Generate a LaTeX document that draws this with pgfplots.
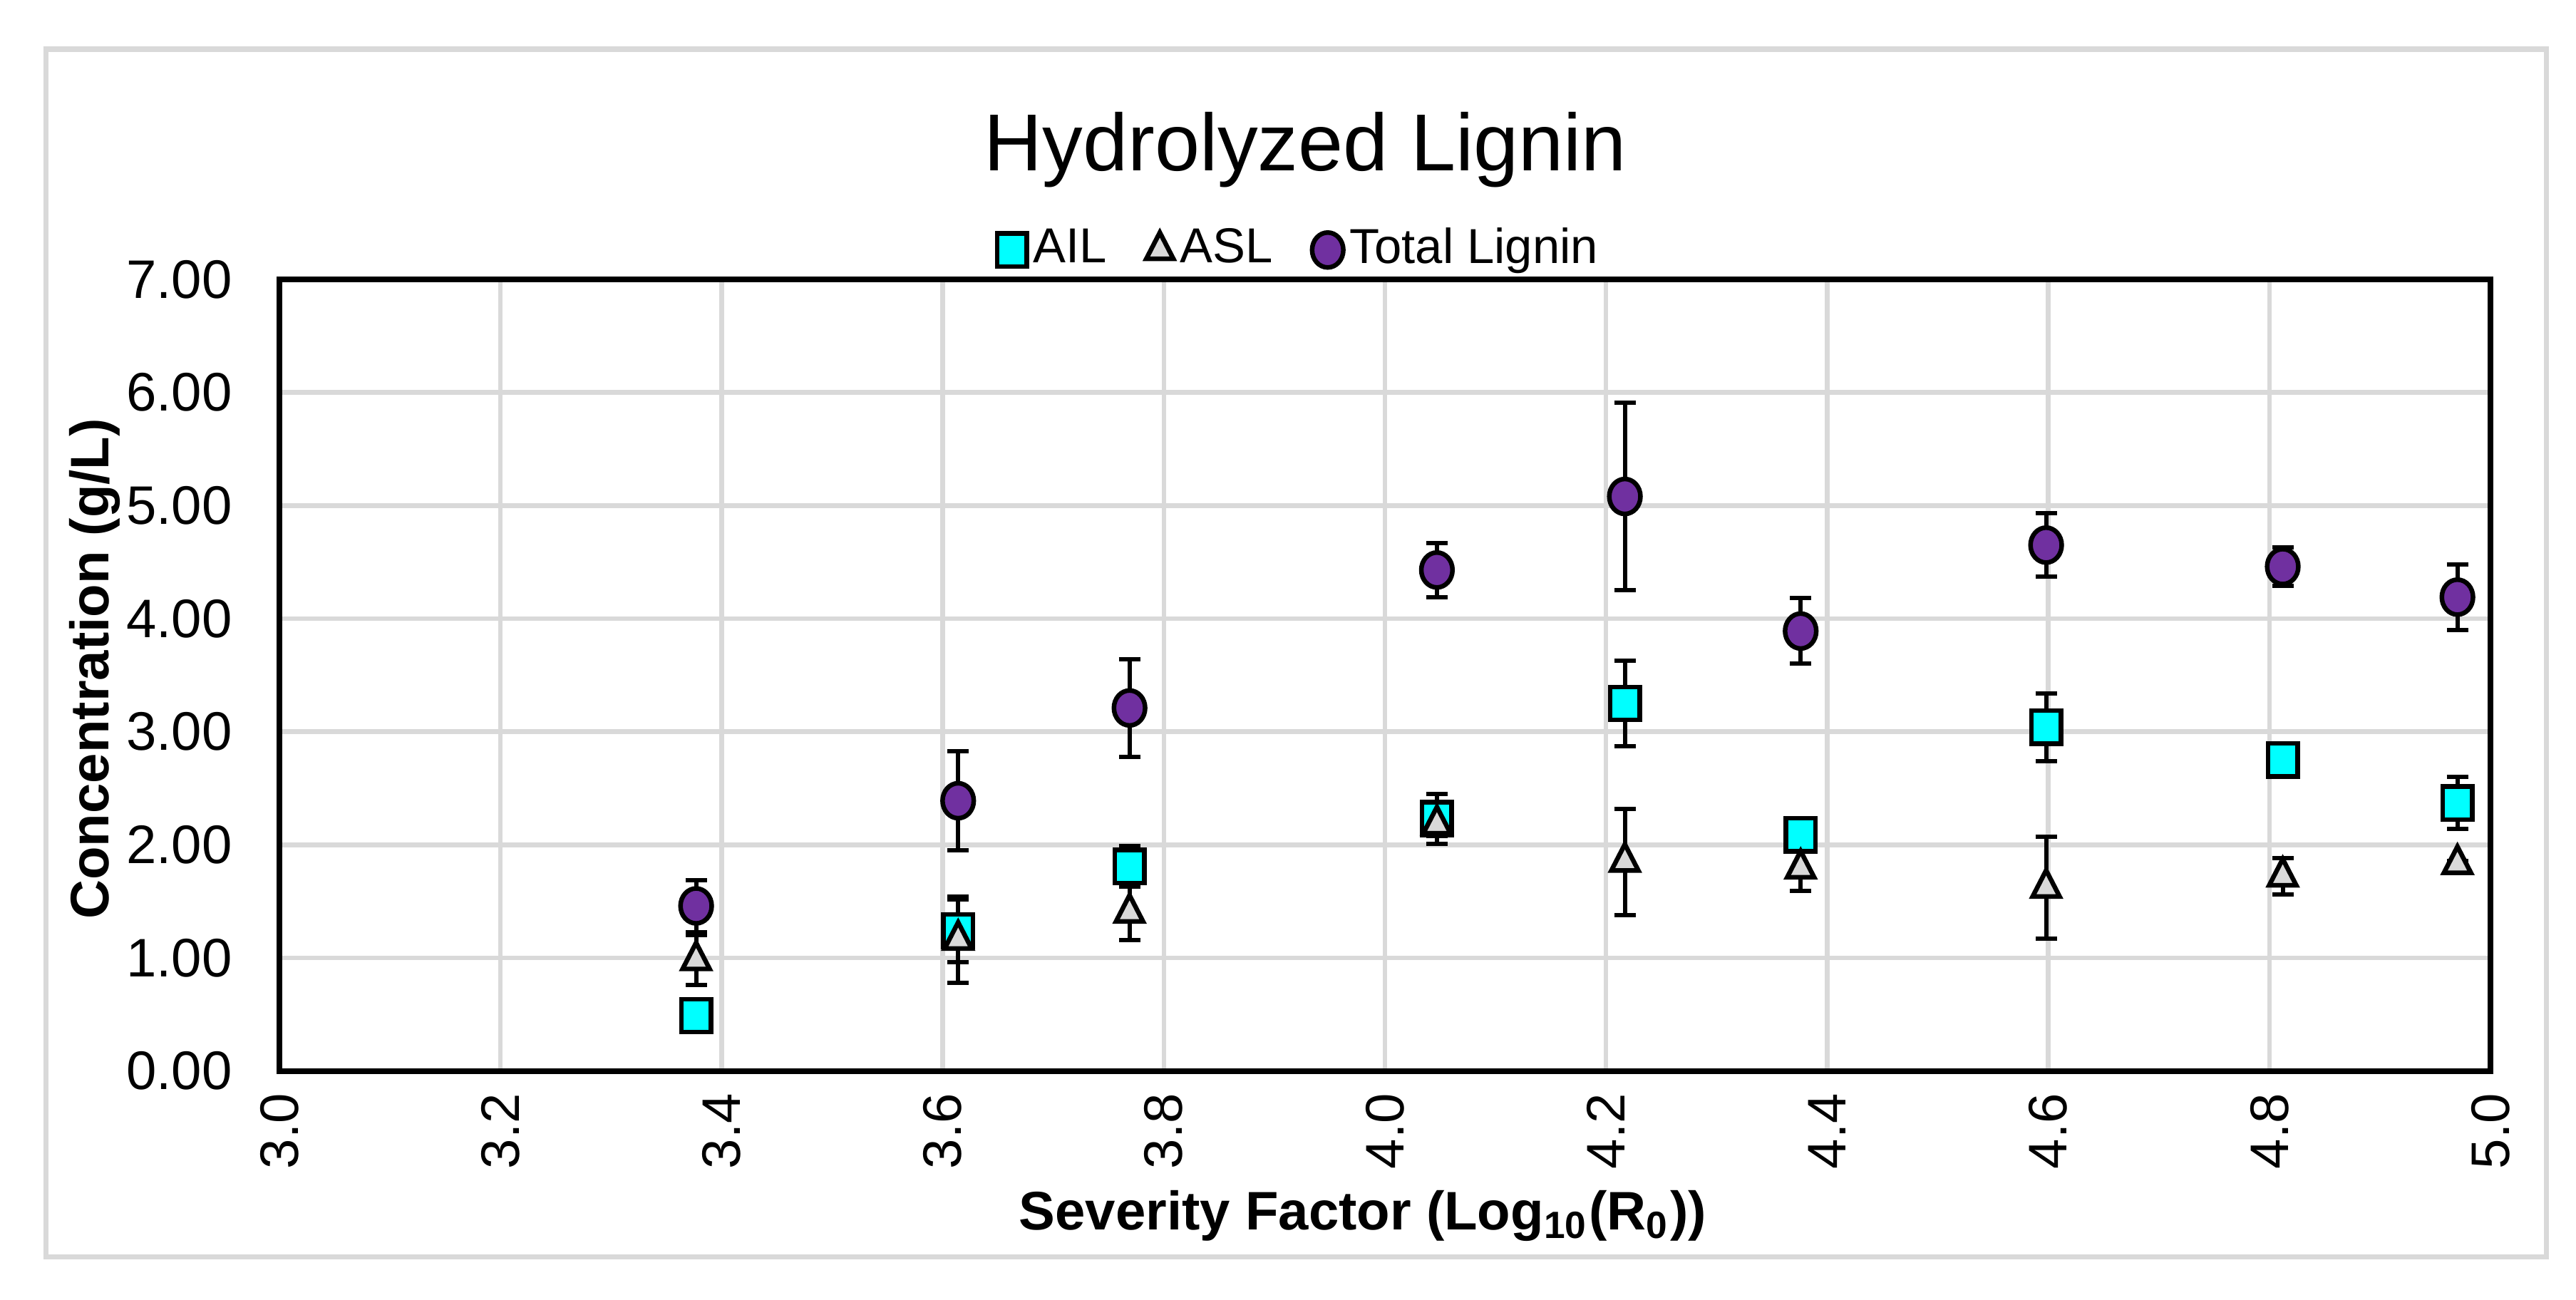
\documentclass[border=0pt]{standalone}
\usepackage{fontspec}
\setmainfont{Liberation Sans}
\usepackage{pgfplots}
\pgfplotsset{compat=1.18}

\definecolor{ailcyan}{HTML}{00FFFF}
\definecolor{tlpurple}{HTML}{7030A0}
\definecolor{aslgray}{HTML}{D9D9D9}
\definecolor{gridgray}{HTML}{D9D9D9}

\pgfplotsset{
  myerr/.style={error bars/.cd, y dir=both, y explicit,
    error bar style={line width=0.75pt, black},
    error mark options={rotate=90, mark size=0.65mm, line width=0.75pt, black}},
}

\begin{document}
\begin{tikzpicture}
\path[use as bounding box] (-1.70,-1.39) rectangle (13.98,6.52);
\draw[gridgray, line width=0.9pt] (-1.42,-1.13) rectangle (13.80,6.22);
\begin{axis}[
    scale only axis,
    width=13.46cm, height=4.82cm,
    xmin=3, xmax=5, ymin=0, ymax=7,
    xtick={3.0,3.2,3.4,3.6,3.8,4.0,4.2,4.4,4.6,4.8,5.0},
    ytick={0,1,2,3,4,5,6,7},
    grid=major,
    grid style={line width=0.8pt, draw=gridgray},
    axis line style={line width=1pt, black},
    tick style={draw=none},
    /pgf/number format/assume math mode=true,
    xticklabel style={/pgf/number format/.cd, fixed, fixed zerofill, precision=1, /tikz/.cd,
        rotate=90, anchor=east, font=\fontsize{9.4}{11}\selectfont, inner sep=0pt},
    xticklabel shift=1.3mm,
    yticklabel style={/pgf/number format/.cd, fixed, fixed zerofill, precision=2, /tikz/.cd,
        font=\fontsize{9.4}{11}\selectfont, inner sep=0pt},
    yticklabel shift=2.8mm,
    xlabel={\textbf{Severity Factor (Log\textsubscript{10}(R\textsubscript{0}))}},
    ylabel={\textbf{Concentration (g/L)}},
    label style={font=\fontsize{9.4}{11}\selectfont},
    xlabel style={at={(axis description cs:0.49,-0.183)}, anchor=center},
    ylabel style={at={(axis description cs:-0.0835,0.508)}, anchor=center},
    title={Hydrolyzed Lignin},
    title style={at={(axis description cs:0.464,1.12)}, anchor=center, font=\fontsize{14}{16}\selectfont},
    legend columns=-1,
    legend style={at={(axis description cs:0.462,1.037)}, anchor=center, draw=none, fill=none,
        font=\fontsize{8.5}{10}\selectfont, inner sep=0pt,
        nodes={inner sep=0.4mm},
        /tikz/every odd column/.append style={column sep=0mm},
        /tikz/every even column/.append style={column sep=2mm}},
    legend image code/.code={\draw[#1] plot coordinates {(0cm,0cm)};},
    clip=false,
]
% AIL
\addplot[only marks, mark=square*, mark size=0.9mm,
  mark options={fill=ailcyan, draw=black, line width=0.8pt, yscale=1.12}, myerr]
  coordinates {
    (3.377,0.49) +- (0,0)
    (3.614,1.24) +- (0,0.28)
    (3.769,1.81) +- (0,0.18)
    (4.047,2.23) +- (0,0.22)
    (4.217,3.25) +- (0,0.38)
    (4.376,2.09) +- (0,0)
    (4.598,3.04) +- (0,0.30)
    (4.812,2.75) +- (0,0)
    (4.970,2.37) +- (0,0.23)
  };
\addlegendentry{AIL}
% ASL
\addplot[only marks, mark=triangle*, mark size=0.95mm,
  mark options={fill=aslgray, draw=black, line width=0.8pt, yscale=1.12}, myerr]
  coordinates {
    (3.377,0.98) +- (0,0.22)
    (3.614,1.16) +- (0,0.38)
    (3.769,1.40) +- (0,0.24)
    (4.047,2.18) +- (0,0.10)
    (4.217,1.85) +- (0,0.47)
    (4.376,1.79) +- (0,0.20)
    (4.598,1.62) +- (0,0.45)
    (4.812,1.72) +- (0,0.16)
    (4.970,1.83) +- (0,0.03)
  };
\addlegendentry{ASL}
% Total Lignin
\addplot[only marks, mark=*, mark size=0.95mm,
  mark options={fill=tlpurple, draw=black, line width=0.8pt, yscale=1.12}, myerr]
  coordinates {
    (3.377,1.46) +- (0,0.23)
    (3.614,2.39) +- (0,0.44)
    (3.769,3.21) +- (0,0.43)
    (4.047,4.43) +- (0,0.24)
    (4.217,5.08) +- (0,0.83)
    (4.376,3.89) +- (0,0.29)
    (4.598,4.65) +- (0,0.28)
    (4.812,4.46) +- (0,0.17)
    (4.970,4.19) +- (0,0.29)
  };
\addlegendentry{Total Lignin}
\end{axis}
\end{tikzpicture}
\end{document}
